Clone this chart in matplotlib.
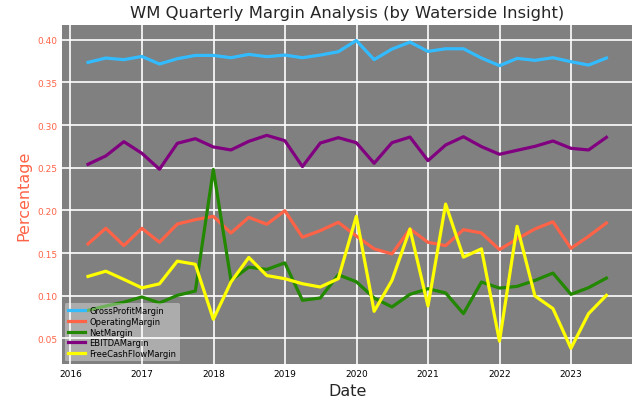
import pandas as pd
import matplotlib
matplotlib.use("Agg")
import matplotlib.pyplot as plt
import matplotlib.dates as mdates

dates = pd.date_range("2016-03-31", "2023-06-30", freq="QE")

gross_profit = [0.3735, 0.3786, 0.3767, 0.3805, 0.3716, 0.3778, 0.3817, 0.3817,
                0.3790, 0.3829, 0.3802, 0.3821, 0.3790, 0.3821, 0.3860, 0.3992,
                0.3767, 0.3891, 0.3973, 0.3864, 0.3895, 0.3895, 0.3786, 0.3697,
                0.3782, 0.3759, 0.3790, 0.3743, 0.3704, 0.3786]
operating = [0.1608, 0.1791, 0.1588, 0.1791, 0.1627, 0.1841, 0.1892, 0.1931,
             0.1736, 0.1919, 0.1838, 0.1997, 0.1686, 0.1763, 0.1861, 0.1700,
             0.1550, 0.1491, 0.1783, 0.1627, 0.1588, 0.1775, 0.1736, 0.1541,
             0.1666, 0.1783, 0.1867, 0.1556, 0.1697, 0.1853]
net = [0.0830, 0.0880, 0.0925, 0.0986, 0.0916, 0.1005, 0.1056, 0.2480,
       0.1180, 0.1336, 0.1308, 0.1386, 0.0947, 0.0974, 0.1246, 0.1165,
       0.0974, 0.0869, 0.1017, 0.1083, 0.1033, 0.0791, 0.1161, 0.1090,
       0.1110, 0.1180, 0.1266, 0.1017, 0.1095, 0.1207]
ebitda = [0.2541, 0.2639, 0.2806, 0.2670, 0.2483, 0.2787, 0.2841, 0.2744,
          0.2709, 0.2810, 0.2880, 0.2818, 0.2514, 0.2790, 0.2853, 0.2794,
          0.2553, 0.2794, 0.2860, 0.2584, 0.2767, 0.2864, 0.2748, 0.2658,
          0.2705, 0.2751, 0.2814, 0.2728, 0.2709, 0.2857]
free_cash_flow = [0.1227, 0.1288, 0.1192, 0.1093, 0.1140, 0.1406, 0.1369, 0.0725,
                  0.1161, 0.1449, 0.1237, 0.1200, 0.1141, 0.1103, 0.1200, 0.1931,
                  0.0818, 0.1180, 0.1783, 0.0881, 0.2075, 0.1453, 0.1550, 0.0468,
                  0.1814, 0.0998, 0.0850, 0.0384, 0.0791, 0.1005]

series = [
    ("GrossProfitMargin", gross_profit, "#33bbff"),
    ("OperatingMargin", operating, "tomato"),
    ("NetMargin", net, "#228800"),
    ("EBITDAMargin", ebitda, "purple"),
    ("FreeCashFlowMargin", free_cash_flow, "yellow"),
]

fig = plt.figure(figsize=(6.4, 4.14), dpi=100)
ax = fig.add_axes([0.097, 0.119, 0.891, 0.818])
ax.set_facecolor("gray")

for name, values, color in series:
    ax.plot(dates, values, color=color, linewidth=2.3, label=name)

ax.grid(True, color="white", linewidth=1.2)
ax.set_axisbelow(True)
for s in ax.spines.values():
    s.set_visible(False)

ax.xaxis.set_major_locator(mdates.YearLocator())
ax.xaxis.set_major_formatter(mdates.DateFormatter("%Y"))
ax.tick_params(axis="x", labelsize=6.5, length=0)
ax.tick_params(axis="y", labelsize=6.5, length=0, labelcolor="tomato")

ax.set_title("WM Quarterly Margin Analysis (by Waterside Insight)", fontsize=11.8,
             color="#262626")
ax.set_xlabel("Date", fontsize=11.5, color="#262626")
ax.set_ylabel("Percentage", fontsize=11.5, color="tomato")

leg = ax.legend(loc="lower left", fontsize=6, framealpha=0.35,
                facecolor="white", edgecolor="none", labelspacing=0.2,
                borderpad=0.4, handletextpad=0.6, borderaxespad=0.3)

fig.savefig("out.png", dpi=100)
